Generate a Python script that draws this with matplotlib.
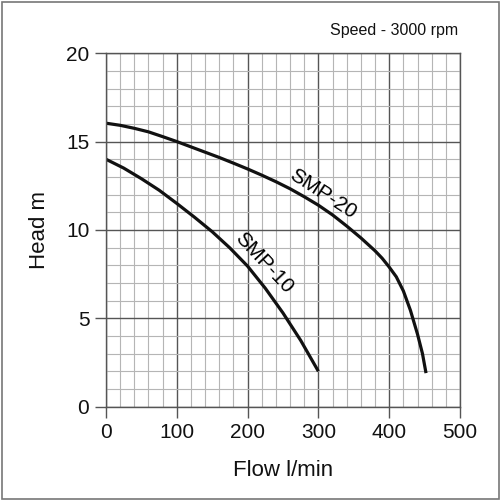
import matplotlib.pyplot as plt
from matplotlib.ticker import MultipleLocator
from matplotlib.patches import Rectangle

plt.rcParams['font.family'] = ['Liberation Sans', 'DejaVu Sans']

# --- pump curves ---
smp20_flow = [0, 20, 40, 60, 80, 100, 120, 140, 160, 180, 200, 220, 240, 260, 280,
              300, 320, 340, 360, 380, 390, 400, 410, 420, 430, 440, 447, 452]
smp20_head = [16.04, 15.92, 15.75, 15.55, 15.28, 15.0, 14.7, 14.4, 14.1, 13.78, 13.45,
              13.1, 12.73, 12.33, 11.88, 11.4, 10.85, 10.22, 9.55, 8.82, 8.4, 7.9,
              7.35, 6.55, 5.45, 4.1, 3.0, 1.9]

smp10_flow = [0, 25, 50, 75, 100, 125, 150, 175, 200, 225, 250, 275, 300]
smp10_head = [14.0, 13.5, 12.9, 12.25, 11.5, 10.72, 9.9, 8.98, 7.95, 6.7, 5.3, 3.75, 2.0]

x_ticks = [0, 100, 200, 300, 400, 500]
y_ticks = [0, 5, 10, 15, 20]

fig = plt.figure(figsize=(5, 5), dpi=100)
fig.patches.append(Rectangle((0.003, 0.003), 0.994, 0.994, transform=fig.transFigure,
                             fill=False, edgecolor='#777777', linewidth=1.2))
ax = fig.add_axes([0.212, 0.1866, 0.708, 0.707])

ax.plot(smp20_flow, smp20_head, color='#111111', linewidth=2.3,
        solid_capstyle='butt', solid_joinstyle='round')
ax.plot(smp10_flow, smp10_head, color='#111111', linewidth=2.3,
        solid_capstyle='butt', solid_joinstyle='round')

ax.text(306.5, 12.05, 'SMP-20', fontsize=15, rotation=-33, ha='center', va='center')
ax.text(222.4, 8.16, 'SMP-10', fontsize=15, rotation=-47, ha='center', va='center')

ax.set_xlim(0, 500)
ax.set_ylim(0, 20)
ax.set_xticks(x_ticks)
ax.set_yticks(y_ticks)
ax.xaxis.set_minor_locator(MultipleLocator(20))
ax.yaxis.set_minor_locator(MultipleLocator(1))

ax.grid(which='major', color='#555555', linewidth=1.0)
ax.grid(which='minor', color='#b5b5b5', linewidth=0.8)
ax.set_axisbelow(True)

for s in ax.spines.values():
    s.set_color('#555555')
    s.set_linewidth(1.0)

ax.tick_params(which='major', direction='out', length=8, width=1.0, color='#555555',
               labelsize=15, pad=4, labelcolor='#111111')
ax.tick_params(which='minor', length=0)

ax.set_xlabel('Flow l/min', fontsize=16, color='#111111')
ax.set_ylabel('Head m', fontsize=16, color='#111111')
ax.xaxis.set_label_coords(0.5, -0.15)
ax.yaxis.set_label_coords(-0.158, 0.5)

fig.text(0.916, 0.94, 'Speed - 3000 rpm', fontsize=11.5, ha='right', va='center', color='#111111')

plt.savefig('out.png', dpi=100)
